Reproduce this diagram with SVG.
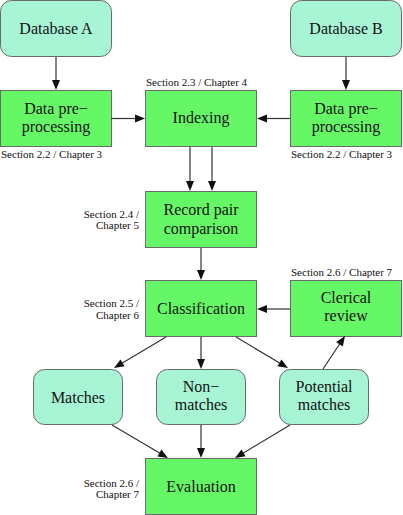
<svg xmlns="http://www.w3.org/2000/svg" width="403" height="515" viewBox="0 0 403 515">
<style>
.db{fill:#a8f5d6;stroke:#6a6a6a;stroke-width:1}
.pr{fill:#66f766;stroke:#6a6a6a;stroke-width:1}
.t{font-family:'Liberation Serif',serif;font-size:16px;fill:#111;text-anchor:middle}
.l{font-family:'Liberation Serif',serif;font-size:11px;fill:#111}
.r{text-anchor:end}
.c{stroke:#333;stroke-width:1.2;fill:none}
.ah{fill:#111;stroke:none}
</style>
<rect width="403" height="515" fill="#fff"/>
<g id="dbA"><rect class="db" x="0.5" y="0.5" width="111" height="56" rx="11"/><text class="t" x="56" y="34">Database A</text></g>
<g id="dbB"><rect class="db" x="290.5" y="0.5" width="111" height="56" rx="11"/><text class="t" x="346" y="34">Database B</text></g>
<g id="preA"><rect class="pr" x="0.5" y="90.5" width="111" height="56"/><text class="t" x="56" y="114">Data pre−</text><text class="t" x="56" y="132">processing</text><text class="l" x="1" y="158">Section 2.2 / Chapter 3</text></g>
<g id="idx"><rect class="pr" x="145.5" y="90.5" width="111" height="56"/><text class="t" x="201" y="123">Indexing</text><text class="l" x="146" y="86">Section 2.3 / Chapter 4</text></g>
<g id="preB"><rect class="pr" x="290.5" y="90.5" width="111" height="56"/><text class="t" x="346" y="114">Data pre−</text><text class="t" x="346" y="132">processing</text><text class="l" x="291" y="158">Section 2.2 / Chapter 3</text></g>
<g id="rpc"><rect class="pr" x="145.5" y="191.5" width="111" height="56"/><text class="t" x="201" y="215">Record pair</text><text class="t" x="201" y="234">comparison</text><text class="l r" x="139" y="218">Section 2.4 /</text><text class="l r" x="139" y="229">Chapter 5</text></g>
<g id="cls"><rect class="pr" x="145.5" y="280.5" width="111" height="56"/><text class="t" x="201" y="314">Classification</text><text class="l r" x="139" y="307">Section 2.5 /</text><text class="l r" x="139" y="319">Chapter 6</text></g>
<g id="cler"><rect class="pr" x="290.5" y="280.5" width="111" height="56"/><text class="t" x="346" y="303">Clerical</text><text class="t" x="346" y="321">review</text><text class="l" x="291" y="276">Section 2.6 / Chapter 7</text></g>
<g id="mat"><rect class="db" x="33.5" y="369.5" width="89" height="55" rx="11"/><text class="t" x="78" y="403">Matches</text></g>
<g id="non"><rect class="db" x="156.5" y="369.5" width="89" height="55" rx="11"/><text class="t" x="201" y="392">Non−</text><text class="t" x="201" y="410">matches</text></g>
<g id="pot"><rect class="db" x="279.5" y="369.5" width="89" height="55" rx="11"/><text class="t" x="324" y="392">Potential</text><text class="t" x="324" y="410">matches</text></g>
<g id="eval"><rect class="pr" x="145.5" y="458.5" width="111" height="56"/><text class="t" x="201" y="492">Evaluation</text><text class="l r" x="139" y="487">Section 2.6 /</text><text class="l r" x="139" y="498">Chapter 7</text></g>
<g id="connectors">
<line class="c" x1="56" y1="57" x2="56" y2="81"/><polygon class="ah" points="52,80 60,80 56,90"/>
<line class="c" x1="346" y1="57" x2="346" y2="81"/><polygon class="ah" points="342,80 350,80 346,90"/>
<line class="c" x1="111" y1="118.5" x2="136" y2="118.5"/><polygon class="ah" points="135,114.5 135,122.5 145,118.5"/>
<line class="c" x1="290" y1="118.5" x2="266" y2="118.5"/><polygon class="ah" points="267,114.5 267,122.5 257,118.5"/>
<line class="c" x1="190" y1="147" x2="190" y2="182"/><polygon class="ah" points="186,181 194,181 190,191"/>
<line class="c" x1="212" y1="147" x2="212" y2="182"/><polygon class="ah" points="208,181 216,181 212,191"/>
<line class="c" x1="201" y1="248" x2="201" y2="271"/><polygon class="ah" points="197,270 205,270 201,280"/>
<line class="c" x1="290" y1="309" x2="266" y2="309"/><polygon class="ah" points="267,305 267,313 257,309"/>
<line class="c" x1="166" y1="337" x2="122" y2="363.2"/><polygon class="ah" points="114,368 120.5,359.4 124.6,366.3"/>
<line class="c" x1="201" y1="337" x2="201" y2="360"/><polygon class="ah" points="197,359 205,359 201,369"/>
<line class="c" x1="236" y1="337" x2="280" y2="363.2"/><polygon class="ah" points="288,368 277.4,366.3 281.5,359.4"/>
<line class="c" x1="323" y1="369" x2="340" y2="343.5"/><polygon class="ah" points="345,336 342.8,346.5 336.1,342.1"/>
<line class="c" x1="112" y1="425" x2="160" y2="453.3"/><polygon class="ah" points="168,458 157.4,456.4 161.4,449.5"/>
<line class="c" x1="201" y1="425" x2="201" y2="449"/><polygon class="ah" points="197,448 205,448 201,458"/>
<line class="c" x1="290" y1="425" x2="243" y2="453.2"/><polygon class="ah" points="235,458 241.5,449.4 245.6,456.3"/>
</g>
</svg>
